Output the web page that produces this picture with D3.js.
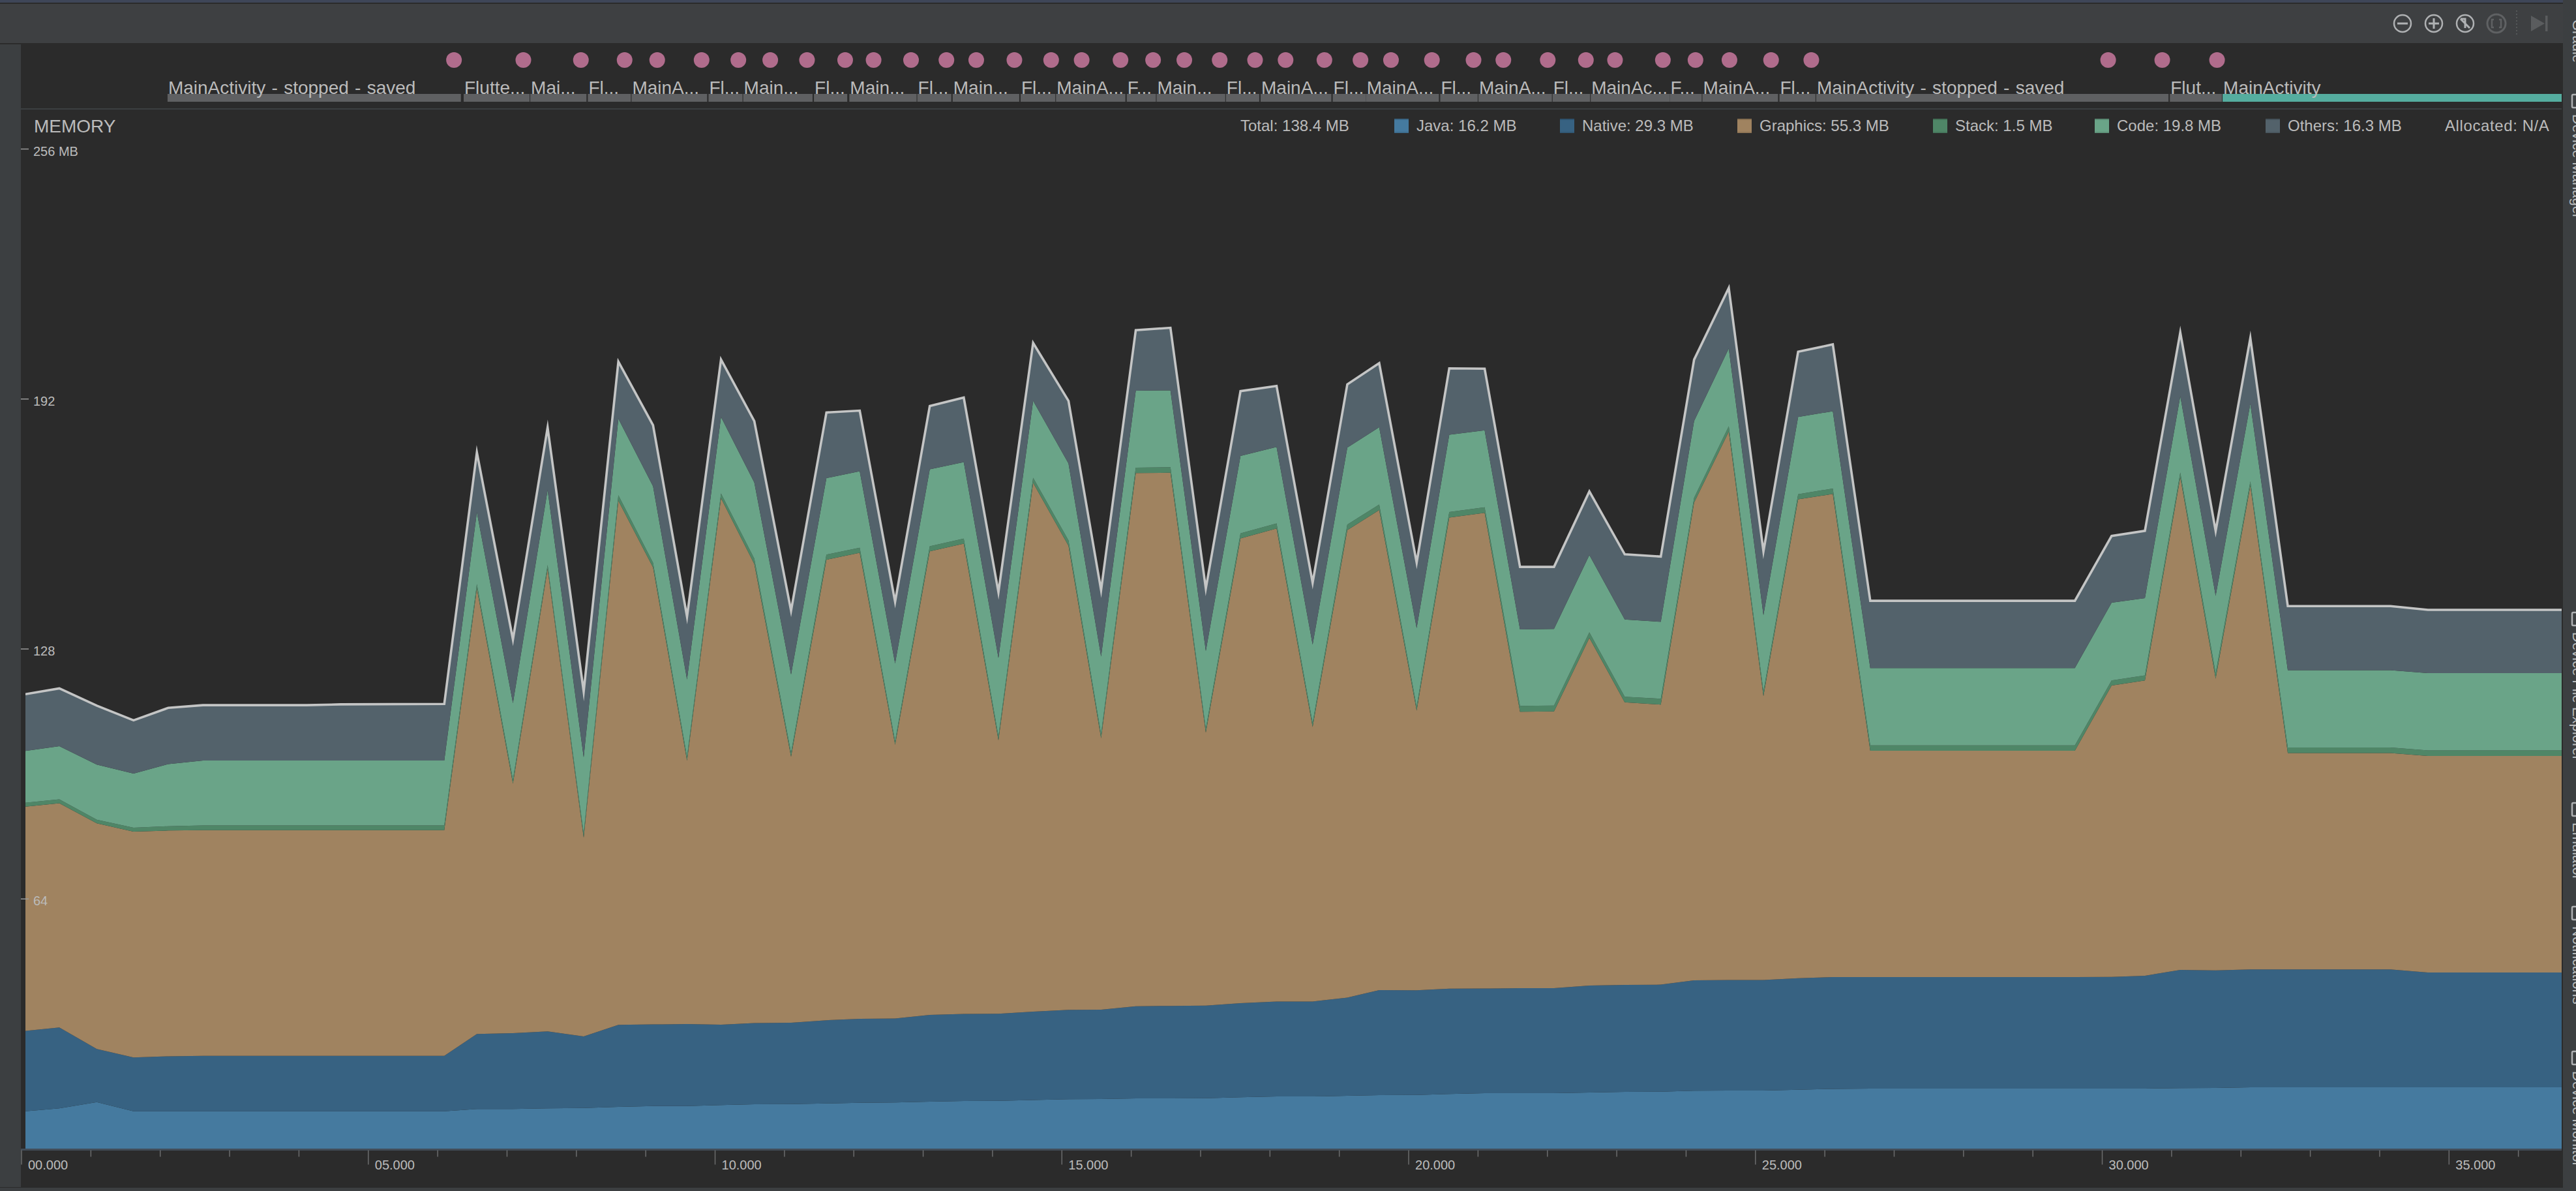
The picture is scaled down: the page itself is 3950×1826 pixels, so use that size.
<!DOCTYPE html>
<html>
<head>
<meta charset="utf-8">
<script src="https://cdn.jsdelivr.net/npm/d3@7"></script>
<style>
html,body{margin:0;padding:0;background:#2b2b2b;overflow:hidden}
svg{display:block}
text{font-family:"Liberation Sans",Arial,sans-serif;fill:#bbbbbb}
</style>
</head>
<body>
<svg id="c" width="3950" height="1826"></svg>
<script>
const times=[.06,.55,1.09,1.62,2.12,2.62,4.12,4.61,6.10,
6.57,7.09,7.59,8.11,8.61,9.11,9.60,10.09,10.57,11.10,
11.61,12.09,12.60,13.10,13.59,14.09,14.59,15.10,15.57,16.07,
16.57,17.08,17.58,18.10,18.62,19.12,19.58,20.12,20.59,21.10,
21.61,22.10,22.61,23.12,23.64,24.12,24.62,25.12,25.62,26.12,
26.66,29.61,30.14,30.62,31.13,31.64,32.14,32.68,34.16,34.70,36.63];
const java=[9.54,10.33,11.9,9.54,9.54,9.54,9.54,9.54,9.54,
10.15,10.15,10.33,10.41,10.68,10.9,10.9,11.13,11.35,11.41,
11.57,11.74,11.8,12.02,12.18,12.24,12.46,12.63,12.69,12.85,
12.85,12.91,13.13,13.35,13.35,13.52,13.69,13.74,13.97,14.19,
14.19,14.19,14.36,14.52,14.58,14.8,14.86,14.86,15.08,15.3,
15.36,15.36,15.36,15.36,15.47,15.52,15.69,15.69,15.69,15.69,15.69];
const native=[20.6,20.7,13.6,13.8,14.1,14.2,14.2,14.2,14.2,
19.2,19.4,19.7,18.3,21.0,20.9,21.0,20.6,20.8,20.8,
21.3,21.5,21.5,22.2,22.3,22.3,22.6,22.9,22.9,23.6,
23.7,23.7,24.1,24.3,24.3,25.15,26.9,26.8,27.0,26.8,
26.9,26.9,27.4,27.4,27.4,28.3,28.3,28.3,28.55,28.6,
28.54,28.54,28.6,28.9,30.3,30.1,30.2,30.2,30.2,29.4,29.4];
const graphics=[57.4,57.4,57.8,57.8,57.8,57.8,57.8,57.8,57.8,
114.0,63.9,118.4,50.9,134.2,117.0,67.4,134.8,117.5,68.1,
117.9,119.3,70.1,118.7,120.4,70.0,135.4,118.8,69.5,136.5,
136.5,69.9,119.0,121.1,70.3,119.7,122.9,71.6,120.6,121.8,
70.75,70.85,89.0,72.35,71.7,122.3,140.4,72.7,122.6,123.7,
57.95,57.95,74.6,75.6,126.1,74.7,123.8,55.4,55.4,55.44,55.44];
const stackMem=[1.0,1.0,.9,1.0,1.1,1.2,1.2,1.2,1.2,
1.2,1.0,1.0,1.0,1.4,1.2,1.0,1.2,1.4,1.0,
1.3,1.3,.9,1.3,1.3,1.0,1.3,1.4,1.0,1.4,
1.4,1.0,1.3,1.3,1.0,1.4,1.4,1.0,1.4,1.4,
1.5,1.5,1.4,1.4,1.5,1.2,1.4,1.15,1.3,1.4,
1.4,1.4,1.3,1.3,1.2,1.4,1.15,1.4,1.4,1.4,1.4];
const code=[13.3,13.6,14.1,13.9,15.9,16.6,16.6,16.6,16.6,
18.4,19.6,19.2,19.6,19.6,19.6,19.8,19.6,19.5,20.1,
19.6,19.6,19.9,19.7,19.6,20.1,19.7,19.7,19.9,19.7,
19.7,19.9,19.8,19.6,20.1,19.7,19.8,20.1,19.8,19.7,
19.6,19.6,19.8,19.8,19.7,19.7,19.9,19.6,19.8,19.8,
19.8,19.8,19.9,19.8,19.6,19.8,19.9,19.8,19.8,19.8,19.8];
const others=[14.5,14.8,15.1,13.6,14.4,14.2,14.2,14.4,14.5,
15.3,16.3,16.0,16.8,14.6,15.6,16.1,14.7,15.7,16.3,
16.8,15.5,15.8,16.2,16.5,16.8,14.8,16.0,17.0,15.5,
16.0,16.0,16.6,15.6,15.8,16.2,16.4,16.8,17.0,15.8,
16.0,15.9,16.3,16.7,16.7,15.7,15.5,16.3,16.7,17.1,
17.2,17.2,17.1,17.2,16.3,16.6,16.8,16.4,16.4,16.2,16.2];

const seriesNames=["Java","Native","Graphics","Stack","Code","Others"];
const seriesValues=[java,native,graphics,stackMem,code,others];
const seriesColors=["#457a9f","#376282","#a08360","#4f8667","#6aa488","#53626b"];
const legendReadings=["16.2 MB","29.3 MB","55.3 MB","1.5 MB","19.8 MB","16.3 MB"];
const totalText="Total: 138.4 MB";
const allocatedText="Allocated: N/A";

const yTicks=[64,128,192,256];
const xMajor=[0,5,10,15,20,25,30,35];
const xMinor=d3.range(0,37).filter(d=>d%5!==0);

const eventTimes=[6.24,7.24,8.07,8.70,9.17,9.81,10.34,10.80,11.33,11.88,12.29,12.83,13.34,13.77,14.32,14.85,15.29,15.85,16.32,16.77,17.28,17.79,18.23,18.79,19.31,19.75,20.34,20.94,21.37,22.01,22.56,22.98,23.67,24.14,24.63,25.23,25.81,30.09,30.87,31.66];

const activityLabels=["MainActivity - stopped - saved","Flutte...","Mai...","Fl...","MainA...","Fl...","Main...","Fl...","Main...","Fl...","Main...","Fl...","MainA...","F...","Main...","Fl...","MainA...","Fl...","MainA...","Fl...","MainA...","Fl...","MainAc...","F...","MainA...","Fl...","MainActivity - stopped - saved","Flut...","MainActivity"];
const activityStart=[2.11,6.38,7.34,8.17,8.80,9.91,10.41,11.43,11.94,12.92,13.43,14.41,14.92,15.94,16.37,17.37,17.87,18.91,19.39,20.46,21.01,22.08,22.63,23.77,24.24,25.35,25.88,30.98,31.74];
const activityEnd=[6.34,7.33,8.15,8.79,9.89,10.40,11.41,11.91,12.91,13.41,14.39,14.91,15.92,16.36,17.36,17.85,18.89,19.39,20.44,21.00,22.07,22.62,23.77,24.23,25.33,25.87,30.96,31.73,36.63];

const sideLabels=["Gradle","Device Manager","Device File Explorer","Emulator","Notifications","Device Monitor"];
const sideLabelY=[30,175,969,1261,1420,1642];

const svg=d3.select("#c");
const x=d3.scaleLinear().domain([0,35]).range([32.5,3754.8]);
const y=d3.scaleLinear().domain([0,256]).range([1761,228]);

function band(px,py,w,h,f){svg.append("rect").attr("x",px).attr("y",py).attr("width",w).attr("height",h).attr("fill",f);}
band(0,0,3950,1826,"#2b2b2b");
band(0,0,3950,4,"#3e4658");
band(0,6,3950,60,"#3e4042");
band(0,68,32,1752,"#3c3f41");
band(32,166,3896,2,"#3c3f41");
band(3930,0,20,1826,"#3c3f41");
band(0,1821,3950,5,"#3c3f41");

// toolbar icons
const tb=svg.append("g").attr("fill","none").attr("stroke","#afb1b3").attr("stroke-width",2.5);
[3684,3732,3780].forEach(cx=>tb.append("circle").attr("cx",cx).attr("cy",36).attr("r",13));
tb.append("path").attr("d","M3676 36h16M3724 36h16M3732 28v16M3773 29h7v14M3773 29l14 14").attr("stroke-width",3);
tb.append("circle").attr("cx",3828).attr("cy",36).attr("r",14).attr("stroke","#5f6163").attr("stroke-width",3);
tb.append("path").attr("d","M3824 30h-3v12h3M3832 30h3v12h-3").attr("stroke","#5f6163");
svg.append("line").attr("x1",3859).attr("x2",3859).attr("y1",16).attr("y2",54).attr("stroke","#5d6062").attr("stroke-width",1.5).attr("stroke-dasharray","2 3");
svg.append("path").attr("d","M3881 24L3902 36L3881 48Z").attr("fill","#5a5c5e");
band(3903,24,3.5,24,"#5a5c5e");

// events
svg.append("g").selectAll("circle").data(eventTimes).join("circle")
  .attr("cx",d=>x(d)).attr("cy",92).attr("r",12).attr("fill","#b06c8c");

// activity bars and labels
const clipTop=svg.append("clipPath").attr("id","plotClip");
clipTop.append("rect").attr("x",39).attr("y",0).attr("width",3889).attr("height",1826);
const act=svg.append("g").attr("clip-path","url(#plotClip)");
act.selectAll("rect").data(activityLabels).join("rect")
  .attr("x",(d,i)=>x(activityStart[i]))
  .attr("width",(d,i)=>x(activityEnd[i])-x(activityStart[i]))
  .attr("y",144).attr("height",12)
  .attr("fill",(d,i)=>i===activityLabels.length-1?"#55ad9f":"#5f6062");
act.selectAll("text").data(activityLabels).join("text")
  .attr("x",(d,i)=>x(activityStart[i])+1).attr("y",143.5)
  .attr("font-size",28).attr("word-spacing","1.5px").text(d=>d);

// stacked areas
const rows=times.map((t,i)=>{const r={t};seriesNames.forEach((n,k)=>r[n]=seriesValues[k][i]);return r;});
const layers=d3.stack().keys(seriesNames)(rows);
const area=d3.area().x(d=>x(d.data.t)).y0(d=>y(d[0])).y1(d=>y(d[1]));
const plot=svg.append("g").attr("clip-path","url(#plotClip)");
plot.selectAll("path.a").data(layers).join("path").attr("class","a")
  .attr("d",area).attr("fill",(d,i)=>seriesColors[i]);
const line=d3.line().x(d=>x(d.data.t)).y(d=>y(d[1]));
plot.append("path").datum(layers[layers.length-1]).attr("d",line)
  .attr("fill","none").attr("stroke","#c4c5c5").attr("stroke-width",3.6)
  .attr("stroke-linejoin","miter").attr("stroke-miterlimit",12);

// x axis
band(32,1761,3896,3,"#424d58");
const gx=svg.append("g").attr("transform","translate(0,1763.5)");
const majorAxis=d3.axisBottom(x).tickValues(xMajor).tickSize(22).tickSizeOuter(0).tickFormat(d3.format("06.3f"));
const minorAxis=d3.axisBottom(x).tickValues(xMinor).tickSize(10).tickSizeOuter(0).tickFormat("");
const gMin=gx.append("g").call(minorAxis);
const gMaj=gx.append("g").call(majorAxis);
[gMin,gMaj].forEach(g=>{g.select(".domain").remove();g.selectAll("line").attr("stroke","#6b6c6d").attr("stroke-width",1.5);});
gMaj.selectAll("text").attr("text-anchor","start").attr("x",10).attr("y",29).attr("dy",0)
  .attr("font-size",20).attr("font-family",'"Liberation Sans",Arial,sans-serif').attr("fill","#bbbbbb");

// y axis
const gy=svg.append("g").attr("transform","translate(32,0)");
gy.call(d3.axisRight(y).tickValues(yTicks).tickSize(12).tickSizeOuter(0).tickFormat(d=>d===256?d+" MB":String(d)));
gy.select(".domain").remove();
gy.selectAll("line").attr("stroke","#9a9a9a").attr("stroke-width",1.5);
gy.selectAll("text").attr("x",19).attr("y",10).attr("dy",0).attr("text-anchor","start")
  .attr("font-size",20).attr("font-family",'"Liberation Sans",Arial,sans-serif').attr("fill","#bbbbbb");

// headings and legend
svg.append("text").attr("x",52).attr("y",202.5).attr("font-size",28).text("MEMORY");
svg.append("text").attr("x",1902).attr("y",200.5).attr("font-size",24).text(totalText);
svg.append("text").attr("x",3749).attr("y",200.5).attr("font-size",24).attr("letter-spacing","0.6px").text(allocatedText);
const swatchX=[2138,2392,2664,2964,3212,3474];
const lg=svg.append("g").selectAll("g").data(seriesNames).join("g")
  .attr("transform",(d,i)=>`translate(${swatchX[i]},182)`);
lg.append("rect").attr("width",22).attr("height",22).attr("fill",(d,i)=>seriesColors[i]);
lg.append("rect").attr("width",22).attr("height",2).attr("fill",(d,i)=>d3.color(seriesColors[i]).darker(0.5));
lg.append("rect").attr("y",20).attr("width",22).attr("height",2).attr("fill",(d,i)=>d3.color(seriesColors[i]).darker(0.3));
lg.append("text").attr("x",34).attr("y",18.5).attr("font-size",24).text((d,i)=>`${d}: ${legendReadings[i]}`);

// right tool strip
svg.append("g").selectAll("text").data(sideLabels).join("text")
  .attr("transform",(d,i)=>`translate(3945,${sideLabelY[i]}) rotate(90)`)
  .attr("font-size",22).text(d=>d);
svg.append("g").selectAll("rect").data(sideLabelY.slice(1)).join("rect")
  .attr("x",3944).attr("y",d=>d-30).attr("width",8).attr("height",20).attr("rx",2)
  .attr("fill","none").attr("stroke","#afb1b3").attr("stroke-width",2.5);
</script>
</body>
</html>
